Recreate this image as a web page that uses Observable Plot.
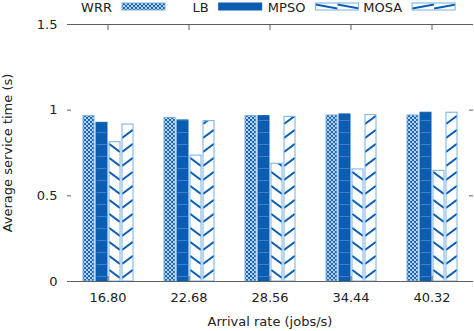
<!DOCTYPE html>
<html><head><meta charset="utf-8">
<script src="https://cdn.jsdelivr.net/npm/d3@7"></script>
<script src="https://cdn.jsdelivr.net/npm/@observablehq/plot@0.6"></script>
<style>
body{margin:0;background:#fff}
svg{font-family:"DejaVu Sans",sans-serif}
</style>
</head><body><div id="chart"></div>
<script>
const rates = ["16.80", "22.68", "28.56", "34.44", "40.32"];
const series = ["WRR", "LB", "MPSO", "MOSA"];
const WRR = [0.965, 0.955, 0.965, 0.969, 0.969];
const LB = [0.926, 0.940, 0.965, 0.975, 0.985];
const MPSO = [0.813, 0.735, 0.687, 0.654, 0.646];
const MOSA = [0.916, 0.936, 0.961, 0.971, 0.985];
const yTicks = [0, 0.5, 1, 1.5];

const seriesValues = [WRR, LB, MPSO, MOSA];
const data = series.flatMap((s, k) => rates.map((r, i) => ({rate: r, series: s, value: seriesValues[k][i]})));

const dark = "#0a5db0", light = "#74aee6", frameColor = "#5f5f5f";

const barMarks = series.map(s => Plot.barY(data.filter(d => d.series === s), {
  fx: "rate", x: "series", y: "value",
  fill: s === "LB" ? dark : "white",
  stroke: s === "LB" ? dark : light,
  strokeWidth: 1
}));

const plot = Plot.plot({
  width: 474,
  height: 331,
  marginTop: 24,
  marginBottom: 50,
  marginLeft: 66,
  marginRight: 1,
  style: {fontSize: "13px", fontFamily: "DejaVu Sans", color: "#222", background: "white"},
  fx: {domain: rates, padding: 0},
  x: {domain: series, paddingInner: 0.185, paddingOuter: 1.107, axis: null},
  y: {domain: [0, 1.5]},
  marks: [
    ...barMarks,
    Plot.ruleY([0, 1.5], {stroke: frameColor}),
    Plot.axisY({anchor: "left", ticks: yTicks, tickSize: 0, tickPadding: 10, tickFormat: d => String(d),
      label: "Average service time (s)", labelAnchor: "center", labelArrow: "none", labelOffset: 65, line: true, stroke: frameColor}),
    Plot.axisY({anchor: "left", ticks: yTicks, tickSize: -4, tickFormat: () => "", label: null, stroke: frameColor}),
    Plot.axisY({anchor: "right", ticks: yTicks, tickSize: -4, tickFormat: () => "", label: null, line: true, stroke: frameColor}),
    Plot.axisFx({anchor: "bottom", tickSize: 0, tickPadding: 11, label: "Arrival rate (jobs/s)", labelAnchor: "center", labelArrow: "none", labelOffset: 44}),
    Plot.axisFx({anchor: "bottom", tickSize: -5, tickFormat: () => "", label: null, stroke: frameColor}),
    Plot.axisFx({anchor: "top", tickSize: -5, tickFormat: () => "", label: null, stroke: frameColor})
  ]
});

document.getElementById("chart").appendChild(plot);

// Patterns
const svg = d3.select(plot);
const defs = svg.insert("defs", ":first-child");
const pw = defs.append("pattern").attr("id", "pWRR").attr("patternUnits", "userSpaceOnUse").attr("width", 4).attr("height", 4);
pw.append("rect").attr("width", 4).attr("height", 4).attr("fill", "white");
pw.append("path").attr("d", "M0,0L4,4M4,0L0,4M-1,3L1,5M3,-1L5,1M-1,1L1,-1M3,5L5,3").attr("stroke", dark).attr("stroke-width", 1.1);
const pl = defs.append("pattern").attr("id", "pLB").attr("patternUnits", "userSpaceOnUse").attr("width", 12).attr("height", 12);
pl.append("rect").attr("width", 12).attr("height", 12).attr("fill", dark);
pl.append("path").attr("d", "M0,0.5H12").attr("stroke", "#4c8ad0").attr("stroke-width", 0.8);

let pid = 0;
function hatchPattern(x, y, w, h, dir) {
  const id = "ph" + (pid++);
  const p = defs.append("pattern").attr("id", id).attr("patternUnits", "userSpaceOnUse")
    .attr("x", x).attr("y", y).attr("width", w).attr("height", h);
  p.append("rect").attr("width", w).attr("height", h).attr("fill", "white");
  const d = dir === "back" ? `M0,${h * 0.2}L${w},${h * 0.78}` : `M0,${h * 0.78}L${w},${h * 0.2}`;
  p.append("path").attr("d", d).attr("stroke", dark).attr("stroke-width", 2);
  return `url(#${id})`;
}

const barGroups = svg.selectAll('g[aria-label="bar"]').nodes();
barGroups.forEach((g, k) => {
  const s = series[k];
  d3.select(g).selectAll("rect").each(function () {
    const r = d3.select(this);
    if (s === "WRR") r.attr("fill", "url(#pWRR)");
    else if (s === "LB") r.attr("fill", "url(#pLB)");
    else {
      const x = +r.attr("x"), y = +r.attr("y"), w = +r.attr("width"), h = +r.attr("height");
      r.attr("fill", hatchPattern(x, y + h, w, 14, s === "MPSO" ? "back" : "fwd"));
    }
  });
});

// Legend
const legend = svg.append("g").attr("class", "legend");
const legendStart = 122, legendStep = 96.7, swW = 43, swH = 7, swY = 3;
series.forEach((s, i) => {
  const x0 = legendStart + i * legendStep;
  legend.append("text").attr("x", x0 - 10).attr("y", 11.5).attr("text-anchor", "end")
    .attr("fill", "#222").attr("font-size", 13).text(s);
  let fill;
  if (s === "WRR") fill = "url(#pWRR)";
  else if (s === "LB") fill = "url(#pLB)";
  else fill = hatchPattern(x0, swY, 22, swH, s === "MPSO" ? "back" : "fwd");
  legend.append("rect").attr("x", x0).attr("y", swY).attr("width", swW).attr("height", swH)
    .attr("fill", fill).attr("stroke", s === "LB" ? dark : light).attr("stroke-width", 1);
});
</script>
</body></html>
